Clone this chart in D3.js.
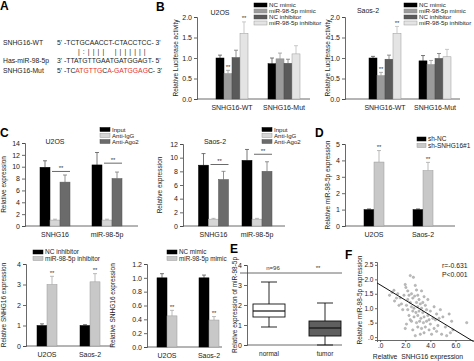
<!DOCTYPE html>
<html>
<head>
<meta charset="utf-8">
<script src="https://d3js.org/d3.v7.min.js"></script>
<style>
body { margin: 0; background: #fff; }
svg { font-family: "Liberation Sans", Arial, sans-serif; }
</style>
</head>
<body>
<div id="viz"></div>
<script>
// ---- data ----
// B: luciferase
var bCats = ["SNHG16-WT", "SNHG16-Mut"];
var bSeries = ["NC mimic", "miR-98-5p mimic", "NC inhibitor", "miR-98-5p inhibitor"];
var bU2osMean = [[1.00, 0.62, 1.01, 1.60], [0.86, 0.98, 0.87, 1.10]];
var bU2osErr  = [[0.07, 0.08, 0.18, 0.28], [0.14, 0.14, 0.10, 0.20]];
var bSaosMean = [[1.00, 0.57, 0.97, 1.60], [0.93, 0.84, 0.99, 1.03]];
var bSaosErr  = [[0.04, 0.08, 0.10, 0.17], [0.13, 0.10, 0.12, 0.18]];
var bSig = [[0, 1, 0, 1], [0, 0, 0, 0]];
var bTicks = [0, 0.5, 1.0, 1.5, 2.0];

// C: RIP
var cCats = ["SNHG16", "miR-98-5p"];
var cSeries = ["Input", "Anti-IgG", "Anti-Ago2"];
var cU2osMean = [[9.9, 1.0, 7.4], [10.3, 1.0, 8.0]];
var cU2osErr  = [[1.1, 0.15, 1.2], [2.1, 0.15, 1.1]];
var cU2osBracket = [9.2, 10.6];
var cSaosMean = [[8.9, 1.0, 6.8], [9.6, 1.0, 8.0]];
var cSaosErr  = [[1.7, 0.12, 1.2], [1.6, 0.12, 1.4]];
var cSaosBracket = [9.0, 10.5];
var cU2osTicks = [0, 2, 4, 6, 8, 10, 12, 14];
var cSaosTicks = [0, 2, 4, 6, 8, 10, 12];

// D
var cellCats = ["U2OS", "Saos-2"];
var dSeries = ["sh-NC", "sh-SNHG16#1"];
var dMean = [[1.0, 3.9], [1.0, 3.38]];
var dErr  = [[0.04, 0.7], [0.04, 0.5]];
var dTicks = [0, 1, 2, 3, 4, 5];

// bottom row bars
var inhSeries = ["NC inhibitor", "miR-98-5p inhibitor"];
var inhMean = [[1.0, 3.0], [1.0, 3.13]];
var inhErr  = [[0.08, 0.4], [0.04, 0.4]];
var inhTicks = [0, 1, 2, 3, 4];
var mimSeries = ["NC mimic", "miR-98-5p mimic"];
var mimMean = [[1.0, 0.45], [1.0, 0.39]];
var mimErr  = [[0.06, 0.08], [0.04, 0.05]];
var mimTicks = [0, 0.2, 0.4, 0.6, 0.8, 1.0, 1.2];
var twoSig = [[0, 1], [0, 1]];

// E: box plot
var boxNames = ["normal", "tumor"];
var boxMin = [0.9, 0.0];
var boxQ1  = [1.4, 0.45];
var boxMed = [1.7, 0.85];
var boxQ3  = [2.05, 1.2];
var boxMax = [3.15, 2.1];
var eTicks = [0, 1, 2, 3, 4];

// F: scatter
var fSnhg = [0.75,0.95,1.1,1.15,1.3,1.6,1.7,2.0,2.05,2.4,2.65,2.8,2.9,2.3,2.5,2.2,2.6,2.75,3.0,3.1,
  2.4,2.9,3.2,3.4,2.1,2.5,2.7,3.0,3.3,3.6,2.2,2.6,2.85,3.1,3.4,3.7,4.0,2.3,2.7,3.0,
  3.25,3.5,3.8,4.2,2.5,2.9,3.15,3.45,3.7,4.0,4.4,4.7,5.0,2.0,2.6,3.0,3.3,3.6,3.9,4.3,
  4.6,5.2,5.6,5.7,6.9,2.8,3.2,3.5,4.1,4.5,4.9,5.3,1.4,1.9,3.5,3.8,4.3,4.8,5.5,2.4,
  2.1,1.8,3.9,4.5,5.8,3.3,2.2,1.5];
var fMir = [1.45,1.55,1.62,1.25,1.35,1.36,1.15,1.82,1.72,2.13,2.07,1.79,1.63,1.45,1.5,1.3,1.35,1.42,1.45,1.3,
  1.2,1.2,1.15,1.2,1.1,1.05,1.0,1.05,1.0,1.1,0.95,0.9,0.85,0.9,0.85,0.95,0.9,0.75,0.7,0.75,
  0.65,0.7,0.75,0.65,0.55,0.5,0.55,0.5,0.55,0.45,0.6,0.65,0.7,0.3,0.25,0.35,0.3,0.35,0.25,0.3,
  0.4,0.35,0.15,0.55,0.5,0.05,0.1,0.15,0.1,0.2,0.1,0.05,1.5,1.45,1.4,1.3,1.05,0.95,0.8,0.6,
  0.45,0.95,0.6,0.8,0.25,1.6,1.6,1.1];
var fFit = [1.81, -0.264];   // intercept, slope
var fXTicks = [0, 2, 4, 6];
var fYTicks = [0, 0.5, 1.0, 1.5, 2.0, 2.5];

var W = 474, H = 361;
var svg = d3.select("#viz").append("svg").attr("width", W).attr("height", H);

function letter(t, x, y) {
  svg.append("text").attr("x", x).attr("y", y).text(t)
    .attr("font-size", 12).attr("font-weight", "bold");
}

function yLabel(t, x, y) {
  svg.append("text").attr("transform", "translate(" + x + "," + y + ") rotate(-90)")
    .attr("text-anchor", "middle").attr("font-size", 6.5).attr("fill", "#222").text(t);
}

function styleAxis(g, fs) {
  g.selectAll("text").attr("font-size", fs || 7).attr("fill", "#222").attr("font-family", null);
  g.selectAll("path,line").attr("stroke", "#444").attr("stroke-width", 0.8);
}

// generic grouped bar panel
function barPanel(c) {
  var y = d3.scaleLinear().domain(c.yDomain).range(c.yRange);
  var x0 = d3.scaleBand().domain(c.cats).range(c.xRange);
  var n = c.series.length;
  var x1 = d3.scaleBand().domain(d3.range(n)).range([0, n * c.barW]);
  var g = svg.append("g");
  var lfs = c.legendFont || 6.8;

  var ya = g.append("g").attr("transform", "translate(" + c.axisX + ",0)")
    .call(d3.axisLeft(y).tickValues(c.ticks).tickFormat(d3.format(c.fmt)).tickSize(3).tickPadding(2));
  styleAxis(ya);
  var xa = g.append("g").attr("transform", "translate(0," + c.yRange[0] + ")")
    .call(d3.axisBottom(x0).tickSize(0).tickPadding(6));
  xa.select(".domain").remove();
  styleAxis(xa);
  g.append("line").attr("x1", c.axisX).attr("x2", c.xEnd)
    .attr("y1", c.yRange[0]).attr("y2", c.yRange[0]).attr("stroke", "#444").attr("stroke-width", 0.8);

  c.cats.forEach(function(cat, ci) {
    var left = x0(cat) + x0.bandwidth() / 2 - n * c.barW / 2;
    c.means[ci].forEach(function(v, si) {
      var bx = left + x1(si), cx = bx + c.barW / 2;
      var top = v + c.errs[ci][si];
      g.append("line").attr("x1", cx).attr("x2", cx).attr("y1", y(v)).attr("y2", y(top))
        .attr("stroke", c.errCol[si]).attr("stroke-width", 0.8);
      g.append("line").attr("x1", cx - 2).attr("x2", cx + 2).attr("y1", y(top)).attr("y2", y(top))
        .attr("stroke", c.errCol[si]).attr("stroke-width", 0.8);
      g.append("rect").attr("x", bx).attr("y", y(v)).attr("width", c.barW)
        .attr("height", y(0) - y(v)).attr("fill", c.colors[si])
        .attr("stroke", c.stroke[si]).attr("stroke-width", 0.5);
      if (c.sig && c.sig[ci][si]) {
        g.append("text").attr("x", cx).attr("y", y(top) - 1.5).attr("text-anchor", "middle")
          .attr("font-size", 6).attr("fill", "#333").text("**");
      }
    });
    if (c.brackets) {
      var bl = left + x1(1) + 2, br = left + x1(2) + c.barW;
      var by = y(c.brackets[ci]);
      g.append("line").attr("x1", bl).attr("x2", br).attr("y1", by).attr("y2", by)
        .attr("stroke", "#444").attr("stroke-width", 0.8);
      g.append("text").attr("x", (bl + br) / 2).attr("y", by - 1.5).attr("text-anchor", "middle")
        .attr("font-size", 6).attr("fill", "#333").text("**");
    }
  });

  if (c.title) {
    g.append("text").attr("x", c.title[1]).attr("y", c.title[2]).attr("text-anchor", "middle")
      .attr("font-size", 7).attr("fill", "#222").text(c.title[0]);
  }
  c.series.forEach(function(s, si) {
    var ly = c.legend[1] + si * c.legend[3];
    g.append("rect").attr("x", c.legend[0]).attr("y", ly - 2).attr("width", c.legend[2]).attr("height", 4)
      .attr("fill", c.colors[si]).attr("stroke", c.stroke[si]).attr("stroke-width", 0.5);
    g.append("text").attr("x", c.legend[0] + c.legend[2] + 2).attr("y", ly + 2.2)
      .attr("font-size", lfs).attr("fill", "#222").text(s);
  });
  yLabel(c.label, c.labelX, (c.yRange[0] + c.yRange[1]) / 2);
}

// ---- A: sequences ----
letter("A", 0, 10);
var seqFont = 6.8;
function seqLine(y, name, parts) {
  svg.append("text").attr("x", 3).attr("y", y).attr("font-size", seqFont).attr("fill", "#222").text(name);
  var t = svg.append("text").attr("x", 57).attr("y", y).attr("font-size", seqFont).attr("fill", "#222");
  parts.forEach(function(p) { t.append("tspan").attr("fill", p[1]).text(p[0]); });
}
seqLine(45, "SNHG16-WT", [["5' -TCTGCAACCT-CTACCTCC- 3'", "#222"]]);
svg.append("text").attr("x", 78).attr("y", 54).attr("font-size", seqFont).attr("fill", "#222")
  .attr("letter-spacing", 0.6).attr("xml:space", "preserve").text("| : | | | |    | | | | | | |");
seqLine(63, "Has-miR-98-5p", [["3' -TTATGTTGAATGATGGAGT- 5'", "#222"]]);
seqLine(73, "SNHG16-Mut", [["5' -TC", "#222"], ["ATGTTG", "#e8322b"], ["C", "#222"],
  ["A-GATGGAG", "#e8322b"], ["C- 3'", "#222"]]);

// ---- B ----
letter("B", 156, 11);
var bCol = ["#000", "#9b9b9b", "#5a5a5a", "#e4e4e4"];
var bStroke = ["#000", "#8a8a8a", "#4a4a4a", "#9a9a9a"];
var bErrCol = ["#555", "#999", "#777", "#bbb"];
barPanel({cats: bCats, series: bSeries, means: bU2osMean, errs: bU2osErr, sig: bSig,
  yDomain: [0, 2], yRange: [99, 17], xRange: [206, 310], axisX: 197, xEnd: 310, barW: 8,
  ticks: bTicks, fmt: ".1f", colors: bCol, stroke: bStroke, errCol: bErrCol, legendFont: 6.2,
  title: ["U2OS", 220, 15], legend: [254, 5, 13, 6], label: "Relative Luciferase activity", labelX: 178});
barPanel({cats: bCats, series: bSeries, means: bSaosMean, errs: bSaosErr, sig: bSig,
  yDomain: [0, 2], yRange: [99, 17], xRange: [360, 460], axisX: 345, xEnd: 460, barW: 8,
  ticks: bTicks, fmt: ".1f", colors: bCol, stroke: bStroke, errCol: bErrCol, legendFont: 6.2,
  title: ["Saos-2", 368, 13], legend: [404, 5, 13, 6], label: "Relative Luciferase activity", labelX: 330});

// ---- C ----
letter("C", 0, 137);
var cCol = ["#000", "#d6d6d6", "#6b6b6b"];
var cStroke = ["#000", "#9a9a9a", "#555"];
var cErrCol = ["#555", "#aaa", "#777"];
barPanel({cats: cCats, series: cSeries, means: cU2osMean, errs: cU2osErr, brackets: cU2osBracket,
  yDomain: [0, 14], yRange: [226, 143], xRange: [29, 133], axisX: 25, xEnd: 138, barW: 10,
  ticks: cU2osTicks, fmt: "d", colors: cCol, stroke: cStroke, errCol: cErrCol, legendFont: 6.1,
  title: ["U2OS", 55, 144], legend: [100, 129.5, 10, 6], label: "Relative expression", labelX: 6});
barPanel({cats: cCats, series: cSeries, means: cSaosMean, errs: cSaosErr, brackets: cSaosBracket,
  yDomain: [0, 12], yRange: [226, 144], xRange: [191.75, 278.75], axisX: 183, xEnd: 285, barW: 10,
  ticks: cSaosTicks, fmt: "d", colors: cCol, stroke: cStroke, errCol: cErrCol, legendFont: 6.1,
  title: ["Saos-2", 215, 144], legend: [262, 129.5, 10, 6], label: "Relative expression", labelX: 162});

// ---- D ----
letter("D", 315, 137);
barPanel({cats: cellCats, series: dSeries, means: dMean, errs: dErr, sig: twoSig,
  yDomain: [0, 5], yRange: [226, 144], xRange: [349.5, 447.5], axisX: 345, xEnd: 455, barW: 10,
  ticks: dTicks, fmt: "d", colors: ["#000", "#c8c8c8"], stroke: ["#000", "#999"], errCol: ["#555", "#aaa"],
  legendFont: 6.5, legend: [417, 139, 9, 6.5], label: "Relative miR-98-5p expression", labelX: 330});

// ---- bottom row ----
barPanel({cats: cellCats, series: inhSeries, means: inhMean, errs: inhErr, sig: twoSig,
  yDomain: [0, 4], yRange: [346, 264], xRange: [25.5, 111.5], axisX: 26, xEnd: 112, barW: 10,
  ticks: inhTicks, fmt: "d", colors: ["#000", "#c8c8c8"], stroke: ["#000", "#999"], errCol: ["#555", "#aaa"],
  legendFont: 6.5, legend: [33, 252, 10, 6.5], label: "Relative SNHG16 expression", labelX: 6});
barPanel({cats: cellCats, series: mimSeries, means: mimMean, errs: mimErr, sig: twoSig,
  yDomain: [0, 1.2], yRange: [347, 264], xRange: [146, 230], axisX: 147, xEnd: 222, barW: 10,
  ticks: mimTicks, fmt: ".1f", colors: ["#000", "#c8c8c8"], stroke: ["#000", "#999"], errCol: ["#555", "#aaa"],
  legendFont: 6.3, legend: [167, 252, 10, 6.5], label: "Relative SNHG16 expression", labelX: 115});

// ---- E: box plot ----
letter("E", 230, 253);
(function() {
  var y = d3.scaleLinear().domain([0, 4]).range([345, 265]);
  var x = d3.scaleBand().domain(boxNames).range([241, 353]);
  var g = svg.append("g");
  var ya = g.append("g").attr("transform", "translate(247,0)")
    .call(d3.axisLeft(y).tickValues(eTicks).tickFormat(d3.format("d")).tickSize(3).tickPadding(2));
  styleAxis(ya);
  var xa = g.append("g").attr("transform", "translate(0,345)")
    .call(d3.axisBottom(x).tickSize(0).tickPadding(6));
  xa.select(".domain").remove();
  styleAxis(xa, 6.5);
  g.append("line").attr("x1", 247).attr("x2", 342).attr("y1", y(0)).attr("y2", y(0))
    .attr("stroke", "#444").attr("stroke-width", 0.8);
  var bw = 32, cw = 16;
  boxNames.forEach(function(nm, i) {
    var cx = x(nm) + x.bandwidth() / 2;
    var fill = i === 0 ? "#fff" : "#5f5f5f";
    [[boxMin[i], boxQ1[i]], [boxQ3[i], boxMax[i]]].forEach(function(w) {
      g.append("line").attr("x1", cx).attr("x2", cx).attr("y1", y(w[0])).attr("y2", y(w[1]))
        .attr("stroke", "#111").attr("stroke-width", 0.9);
    });
    [boxMin[i], boxMax[i]].forEach(function(v) {
      g.append("line").attr("x1", cx - cw / 2).attr("x2", cx + cw / 2).attr("y1", y(v)).attr("y2", y(v))
        .attr("stroke", "#111").attr("stroke-width", 0.9);
    });
    g.append("rect").attr("x", cx - bw / 2).attr("y", y(boxQ3[i])).attr("width", bw)
      .attr("height", y(boxQ1[i]) - y(boxQ3[i])).attr("fill", fill).attr("stroke", "#111").attr("stroke-width", 0.9);
    g.append("line").attr("x1", cx - bw / 2).attr("x2", cx + bw / 2).attr("y1", y(boxMed[i])).attr("y2", y(boxMed[i]))
      .attr("stroke", "#111").attr("stroke-width", 1.2);
  });
  g.append("line").attr("x1", 240).attr("x2", 342).attr("y1", y(3.6)).attr("y2", y(3.6))
    .attr("stroke", "#444").attr("stroke-width", 0.8);
  g.append("text").attr("x", 273).attr("y", y(3.6) - 3).attr("text-anchor", "middle")
    .attr("font-size", 6).attr("fill", "#333").text("n=96");
  g.append("text").attr("x", 318).attr("y", y(3.6) - 3).attr("text-anchor", "middle")
    .attr("font-size", 6).attr("fill", "#333").text("**");
  yLabel("Relative expression of miR-98-5p", 237, 305);
})();

// ---- F: scatter ----
letter("F", 345, 259);
(function() {
  var x = d3.scaleLinear().domain([-0.25, 7.4]).range([377, 473]);
  var y = d3.scaleLinear().domain([-0.1, 2.6]).range([340, 262]);
  var g = svg.append("g");
  var spss = function(v) { var s = d3.format(".1f")(v); return s.charAt(0) === "0" ? s.slice(1) : s; };
  var ya = g.append("g").attr("transform", "translate(377,0)")
    .call(d3.axisLeft(y).tickValues(fYTicks).tickFormat(spss).tickSize(2).tickPadding(1.5));
  styleAxis(ya, 6.5);
  var xa = g.append("g").attr("transform", "translate(0,340)")
    .call(d3.axisBottom(x).tickValues(fXTicks).tickFormat(spss).tickSize(2).tickPadding(1));
  styleAxis(xa, 6.5);
  g.selectAll("circle.pt").data(fSnhg).enter().append("circle").attr("class", "pt")
    .attr("cx", function(d) { return x(d); })
    .attr("cy", function(d, i) { return y(fMir[i]); })
    .attr("r", 1.2).attr("fill", "#bbb").attr("stroke", "#999").attr("stroke-width", 0.4);
  var xs = x.domain();
  g.append("line").attr("x1", x(xs[0])).attr("y1", y(fFit[0] + fFit[1] * xs[0]))
    .attr("x2", x(xs[1])).attr("y2", y(fFit[0] + fFit[1] * xs[1]))
    .attr("stroke", "#111").attr("stroke-width", 1);
  g.append("text").attr("x", 442).attr("y", 268).attr("font-size", 6.8).attr("fill", "#222").text("r=-0.631");
  g.append("text").attr("x", 442).attr("y", 277).attr("font-size", 6.8).attr("fill", "#222").text("P<0.001");
  g.append("text").attr("x", 418).attr("y", 359).attr("text-anchor", "middle")
    .attr("font-size", 6.8).attr("fill", "#222").attr("xml:space", "preserve").text("Relative  SNHG16 expression");
  yLabel("Relative miR-98-5p expression", 362, 300);
})();
</script>
</body>
</html>
